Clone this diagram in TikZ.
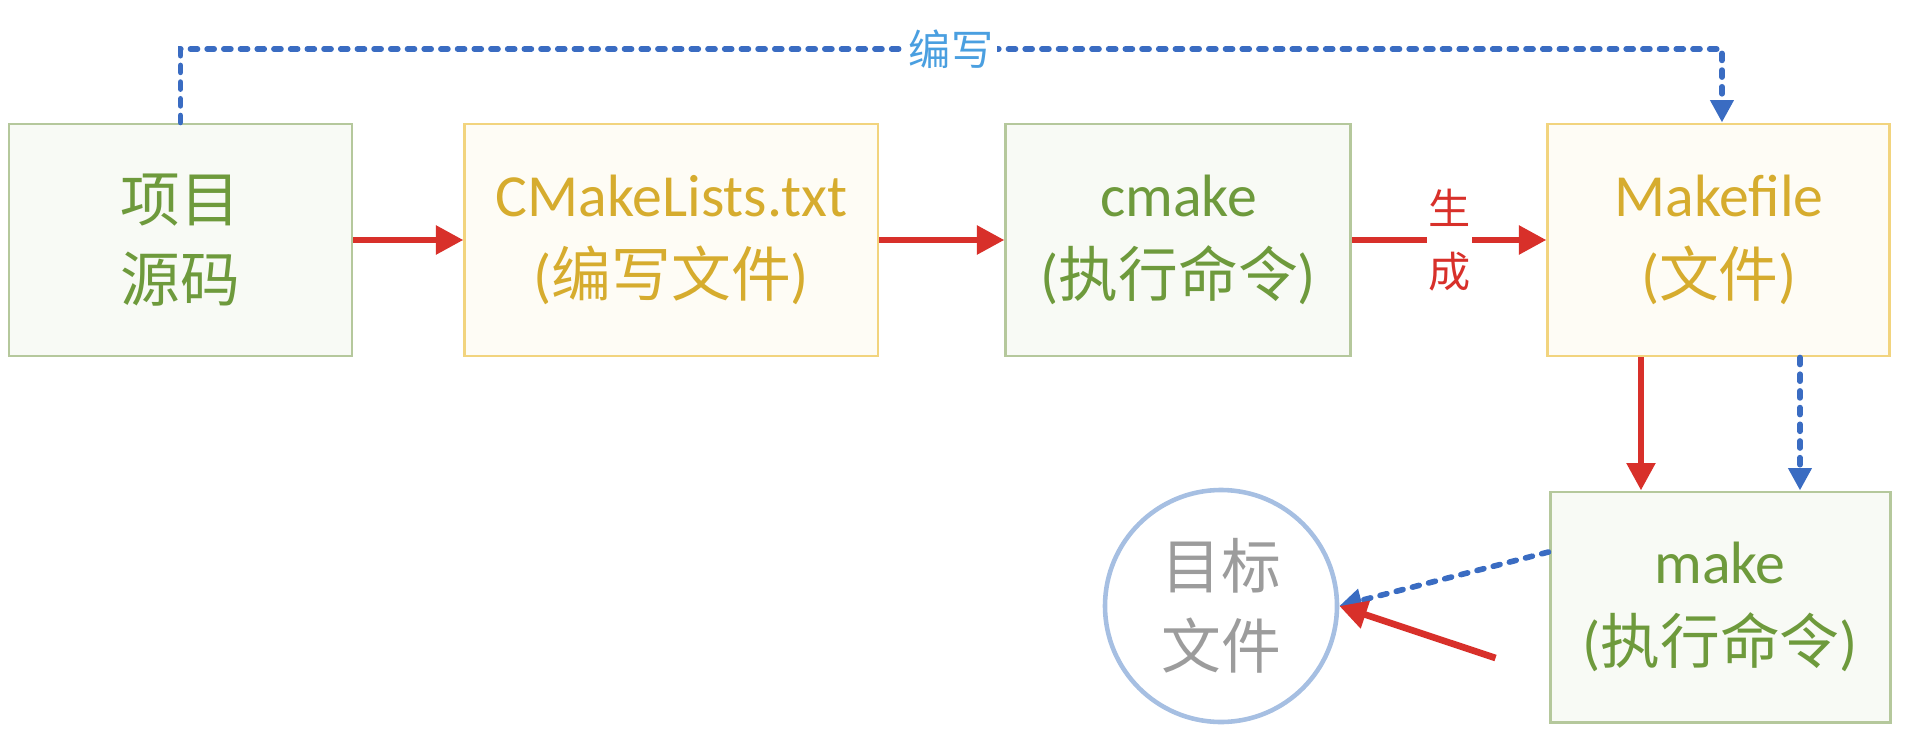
\documentclass[tikz,border=0pt]{standalone}
\usepackage{fontspec}
\setmainfont{Carlito}
\newfontfamily\cjk{Noto Sans CJK SC}
\usepackage{tikz}
\usetikzlibrary{arrows.meta}
\usetikzlibrary{positioning}
\definecolor{boxgreen}{HTML}{B5C89C}
\definecolor{boxyellow}{HTML}{F2D47E}
\definecolor{txtgreen}{HTML}{6E9A3C}
\definecolor{txtgold}{HTML}{D6AC2E}
\definecolor{arrred}{HTML}{D8302A}
\definecolor{arrblue}{HTML}{3A6CC2}
\definecolor{lblblue}{HTML}{4A9FE0}
\definecolor{circblue}{HTML}{A6BFE2}
\definecolor{txtgray}{HTML}{9C9C9C}
\newcommand{\zh}[1]{{\cjk #1}}
\tikzset{greenbox/.style = {draw = boxgreen, line width = 1.7pt, fill = boxgreen!10,
                            text = txtgreen, align = center, minimum height = 4.64cm,
                            font = \fontsize{34}{45.5}\selectfont}}
\tikzset{yellowbox/.style = {greenbox, draw = boxyellow, fill = boxyellow!8, text = txtgold}}
\tikzset{redarr/.style = {draw = arrred, line width = 3.8pt,
                          -{Triangle[length = 0.55cm, width = 0.55cm]}}}
\tikzset{bluedot/.style = {draw = arrblue, line width = 3.2pt, line cap = round,
                           dash pattern = on 4pt off 5.5pt,
                           -{Triangle[length = 0.45cm, width = 0.45cm]}}}

\begin{document}
\begin{tikzpicture}
      \useasboundingbox (0, 0) rectangle (38.1, -14.84);
      \node [greenbox, minimum width = 6.86cm] (src) at (3.61, -4.8) {\zh{项目}\\\zh{源码}};
      \node [yellowbox, minimum width = 8.26cm, right = 2.2cm of src] (cml) {CMakeLists.txt\\(\zh{编写文件})};
      \node [greenbox, minimum width = 6.9cm, right = 2.5cm of cml] (cmk) {cmake\\(\zh{执行命令})};
      \node [yellowbox, minimum width = 6.84cm, right = 3.88cm of cmk] (mkf) {Makefile\\(\zh{文件})};
      \node [greenbox, minimum width = 6.8cm, minimum height = 4.6cm] (mk) at (34.4, -12.14) {make\\(\zh{执行命令})};
      \node [circle, draw = circblue, line width = 2.6pt, minimum size = 4.64cm, text = txtgray,
             align = center, font = \fontsize{34}{45.5}\selectfont] (tgt) at (24.42, -12.12) {\zh{目标}\\\zh{文件}};
      \coordinate (top) at (19.02, -0.98);
      \coordinate (rtail) at ([xshift = -1.06cm, yshift = -1.02cm] mk.west);

      \draw [redarr] (src) -- (cml);
      \draw [redarr] (cml) -- (cmk);
      \draw [redarr] (cmk) -- node [fill = white, inner sep = 1pt, text = arrred, align = center,
                                   font = \fontsize{24}{36}\selectfont] {\zh{生}\\\zh{成}} (mkf);
      \draw [bluedot] (src.north) |- (top)
            node [fill = white, inner sep = 2pt, text = lblblue, font = \fontsize{24}{28}\selectfont] {\zh{编写}}
            -| ([xshift = 0.06cm] mkf.north);
      \draw [redarr] ([xshift = -1.56cm] mkf.south) -- ([xshift = -1.56cm] mkf.south |- mk.north);
      \draw [bluedot] ([xshift = 1.62cm] mkf.south) -- ([xshift = 1.62cm] mkf.south |- mk.north);
      \draw [bluedot] ([yshift = 1.1cm] mk.west) -- (tgt.east);
      \draw [redarr] (rtail) -- (tgt.east);
\end{tikzpicture}
\end{document}
